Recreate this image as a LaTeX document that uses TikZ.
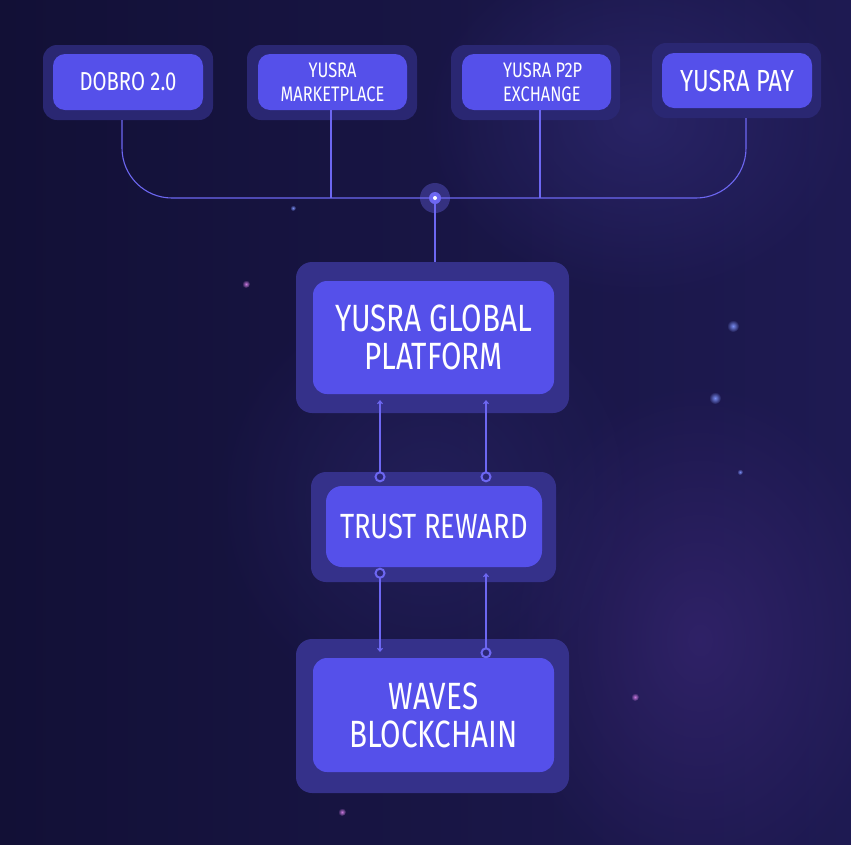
\documentclass[tikz,border=0pt]{standalone}
\usepackage{fontspec}
\newfontfamily\lbl{Fira Sans}[FakeStretch=0.78]
\usetikzlibrary{calc,arrows.meta,fadings}
\tikzfading[name=glowfade, inner color=transparent!0, outer color=transparent!100]
\definecolor{bgA}{HTML}{121036}
\definecolor{bgB}{HTML}{1E1A52}
\definecolor{boxc}{HTML}{5550EA}
\definecolor{haloT}{HTML}{2A2772}
\definecolor{haloB}{HTML}{35318A}
\definecolor{linec}{HTML}{6D67F2}
\definecolor{ringin}{HTML}{2C2776}
\tikzset{
  inner/.style={fill=boxc, rounded corners=12pt, inner sep=0pt, align=center, text=white, font=\lbl},
  halo/.style={fill=#1, rounded corners=14pt, inner sep=0pt},
  conn/.style={draw=linec, line width=1.1pt},
  arr/.style={conn, -{Straight Barb[length=3pt,width=5pt]}},
  ring/.style={circle, fill=ringin, draw=linec, line width=2pt, minimum size=9pt, inner sep=0pt},
}
\begin{document}
\begin{tikzpicture}[x=1pt,y=-1pt]
\useasboundingbox (0,0) rectangle (851,844);
% background
\shade[left color=bgA, right color=bgB] (0,0) rectangle (851,844);
\fill[color={rgb,255:red,50;green,44;blue,120}, path fading=glowfade, opacity=0.6] (640,120) ellipse (220 and 180);
\fill[color={rgb,255:red,60;green,40;blue,120}, path fading=glowfade, opacity=0.6] (700,640) ellipse (200 and 260);
\fill[color={rgb,255:red,45;green,40;blue,110}, path fading=glowfade, opacity=0.5] (430,500) ellipse (220 and 220);
% stars
\fill[color={rgb,255:red,200;green,120;blue,220}, path fading=glowfade] (246,284) circle (4);
\fill[color={rgb,255:red,120;green,140;blue,240}, path fading=glowfade] (733,326) circle (6);
\fill[color={rgb,255:red,120;green,140;blue,240}, path fading=glowfade] (715,398) circle (6);
\fill[color={rgb,255:red,200;green,120;blue,220}, path fading=glowfade] (635,697) circle (4);
\fill[color={rgb,255:red,200;green,120;blue,220}, path fading=glowfade] (342,812) circle (4);
\fill[color={rgb,255:red,120;green,140;blue,240}, path fading=glowfade] (740,472) circle (3);
\fill[color={rgb,255:red,120;green,140;blue,240}, path fading=glowfade] (293,208) circle (3);

% top row halos
\node[halo=haloT, minimum width=170pt, minimum height=75pt] (dobroh) at (128,82.5) {};
\node[halo=haloT, minimum width=170pt, minimum height=75pt] (marketh) at (332,82.5) {};
\node[halo=haloT, minimum width=169pt, minimum height=75pt] (p2ph) at (535.5,82.5) {};
\node[halo=haloT, minimum width=169pt, minimum height=75pt] (payh) at (736.5,80.5) {};
% top row boxes
\node[inner, minimum width=150pt, minimum height=56pt, font=\lbl\fontsize{26}{30}\selectfont] (dobro) at (128,82) {DOBRO 2.0};
\node[inner, minimum width=149pt, minimum height=56pt, font=\lbl\fontsize{21}{24}\selectfont] (market) at (332.5,82) {YUSRA\\MARKETPLACE};
\node[inner, minimum width=149pt, minimum height=56pt] (p2p) at (536.5,82) {};
\node[font=\lbl\fontsize{21}{24}\selectfont, text=white, align=left, inner sep=0pt, anchor=west] (p2pt) at (503,82) {YUSRA P2P\\EXCHANGE};
\node[inner, minimum width=150pt, minimum height=55pt, font=\lbl\fontsize{30.5}{34}\selectfont] (pay) at (737,80.5) {YUSRA PAY};

% hub
\coordinate (hub) at (435,198);
\draw[conn, rounded corners=50pt] ([xshift=-6pt]dobroh.south) |- (hub);
\draw[conn, rounded corners=50pt] ([xshift=9.5pt]payh.south) |- (hub);
\draw[conn] ([xshift=-1.5pt]market.south) -- ([xshift=-1.5pt]market.south |- hub);
\draw[conn] ([xshift=3.5pt]p2p.south) -- ([xshift=3.5pt]p2p.south |- hub);

% platform
\node[halo=haloB, minimum width=273pt, minimum height=151pt, rounded corners=16pt] (plath) at (432.5,337.5) {};
\node[inner, minimum width=241pt, minimum height=113pt, rounded corners=14pt, font=\lbl\fontsize{38}{38}\selectfont] (plat) at (433.5,337.5) {YUSRA GLOBAL\\PLATFORM};
\draw[conn] (hub) -- (hub |- plath.north);
\fill[linec, opacity=0.35] (hub) circle (15);
\node[circle, fill=linec, minimum size=12pt, inner sep=0pt] (hubn) at (hub) {};
\fill[white] (hub) circle (2);

% trust
\node[halo=haloB, minimum width=245pt, minimum height=110pt, rounded corners=15pt] (trusth) at (433.5,527) {};
\node[inner, minimum width=216pt, minimum height=81pt, rounded corners=16pt, font=\lbl\fontsize{35}{40}\selectfont] (trust) at (434,526.5) {TRUST REWARD};

% waves
\node[halo=haloB, minimum width=273pt, minimum height=154pt, rounded corners=16pt] (wavesh) at (432.5,716) {};
\node[inner, minimum width=241pt, minimum height=114pt, rounded corners=14pt, font=\lbl\fontsize{38}{38}\selectfont] (waves) at (433.5,715) {WAVES\\BLOCKCHAIN};

% arrows trust -> platform
\coordinate (t1) at ($(trust.north)+(-54,-9)$);
\coordinate (t2) at ($(trust.north)+(52,-9)$);
\draw[arr] (t1) -- (t1 |- 0,400);
\draw[arr] (t2) -- (t2 |- 0,400);
\node[ring] (r1) at (t1) {};
\node[ring] (r2) at (t2) {};
% trust <-> waves
\coordinate (t3) at ($(trust.south)+(-54,6)$);
\coordinate (w2) at ($(waves.north)+(52.5,-5)$);
\draw[arr] (t3) -- (t3 |- 0,652);
\draw[arr] (w2) -- (w2 |- 0,573);
\node[ring] (r3) at (t3) {};
\node[ring] (r4) at (w2) {};
\end{tikzpicture}
\end{document}
